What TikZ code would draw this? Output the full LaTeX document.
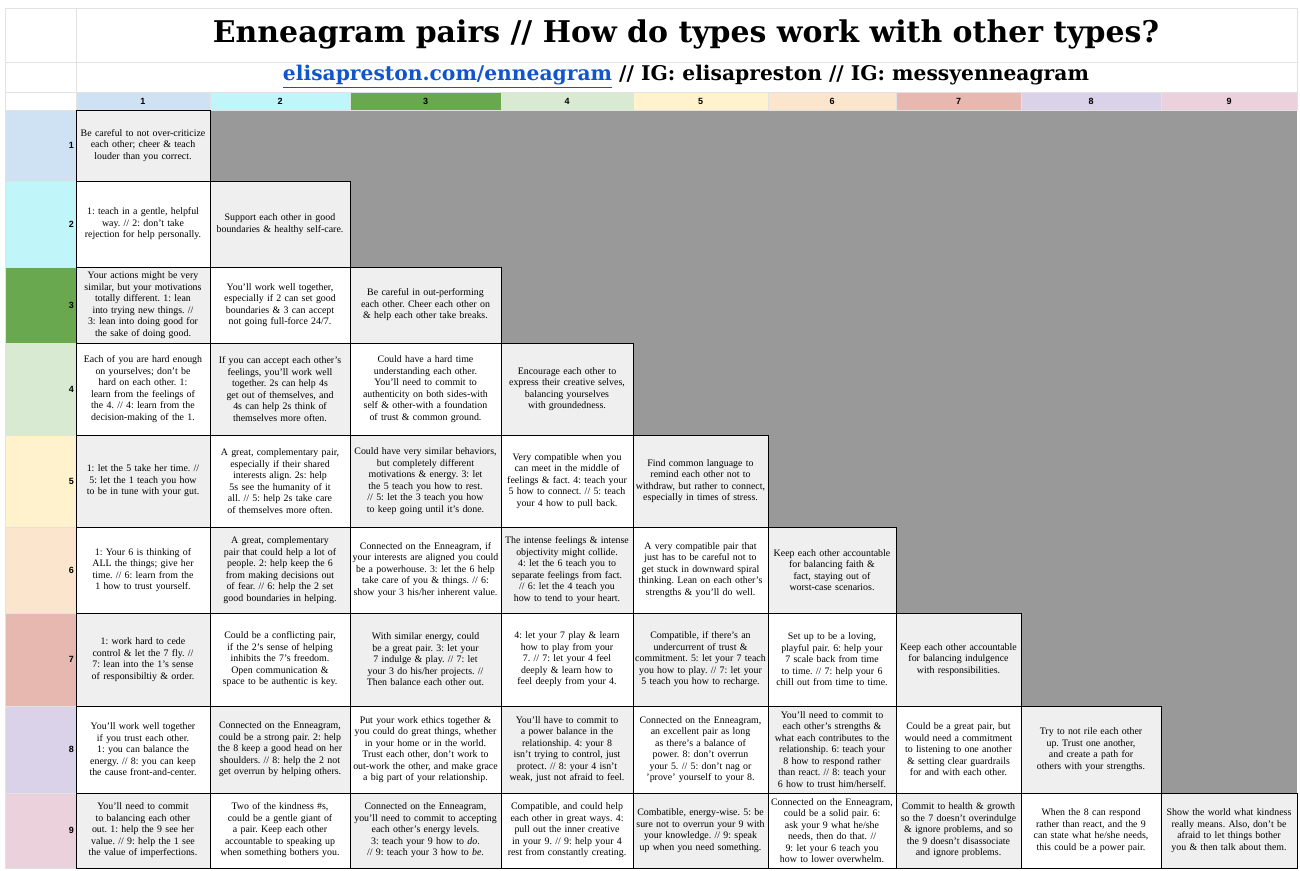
\documentclass[tikz,border=0pt]{standalone}
\usepackage{fontspec}
\setmainfont{Liberation Serif}
\newfontfamily\hdrfont{Liberation Sans}
\newfontfamily\titlefont{DejaVu Serif}
\definecolor{gridgray}{HTML}{E2E2E2}
\definecolor{darkgray}{HTML}{999999}
\definecolor{lightcell}{HTML}{EFEFEF}
\definecolor{linkblue}{HTML}{1155CC}
\definecolor{cA}{HTML}{CFE2F3}
\definecolor{cB}{HTML}{C0F6F9}
\definecolor{cC}{HTML}{6AA84F}
\definecolor{cD}{HTML}{D9EAD3}
\definecolor{cE}{HTML}{FFF2CC}
\definecolor{cF}{HTML}{FCE5CD}
\definecolor{cG}{HTML}{E6B8AF}
\definecolor{cH}{HTML}{D9D2E9}
\definecolor{cI}{HTML}{EAD1DC}
\def\xs{{5,76,210,350,501,633,768,896,1021,1161,1297}}
\def\ys{{92,110,181,267,343,435,527,613,706,793,868}}
\tikzset{
  cellbox/.style={draw=black, line width=0.8pt, inner sep=1pt, align=center,
    font=\fontsize{9.9}{11.5}\selectfont},
  hdrbox/.style={draw=gridgray, line width=0.5pt, inner sep=0pt,
    font=\hdrfont\bfseries\fontsize{9}{10}\selectfont}
}
\newcommand\cellat[3]{%
  \pgfmathsetmacro\xa{\xs[#2]}\pgfmathsetmacro\xb{\xs[#2+1]}%
  \pgfmathsetmacro\ya{\ys[#1]}\pgfmathsetmacro\yb{\ys[#1+1]}%
  \pgfmathsetmacro\ww{\xb-\xa}\pgfmathsetmacro\hh{\yb-\ya}%
  \pgfmathsetmacro\tw{\ww-4}%
  \pgfmathparse{int(mod(#1+#2,2))}%
  \ifnum\pgfmathresult=0 \def\cf{lightcell}\else\def\cf{white}\fi
  \node[cellbox, fill=\cf, minimum width=\ww pt, minimum height=\hh pt, text width=\tw pt]
    (c#1#2) at ({(\xa+\xb)/2},{(\ya+\yb)/2}) {#3};}
\newcommand\hdrat[3]{%
  \pgfmathsetmacro\xa{\xs[#1]}\pgfmathsetmacro\xb{\xs[#1+1]}%
  \node[hdrbox, fill=#2, minimum width=(\xb-\xa)*1pt, minimum height=18pt]
    (h#1) at ({(\xa+\xb)/2},101) {#3};}
\newcommand\rowat[3]{%
  \pgfmathsetmacro\ya{\ys[#1]}\pgfmathsetmacro\yb{\ys[#1+1]}%
  \node[hdrbox, fill=#2, minimum width=71pt, minimum height=(\yb-\ya)*1pt, align=right, text width=67pt]
    (r#1) at (40.5,{(\ya+\yb)/2}) {#3};}
\begin{document}
\hyphenpenalty=10000 \exhyphenpenalty=10000 \frenchspacing
\begin{tikzpicture}[x=1pt,y=-1pt]
\useasboundingbox (0,0) rectangle (1300,870);
\fill[white] (0,0) rectangle (1300,870);
\draw[gridgray, line width=0.6pt] (5,8) -- (1297,8) (5,62) -- (1297,62) (5,92) -- (1297,92)
  (5,8) -- (5,92) (76,8) -- (76,92) (1297,8) -- (1297,92);
\node[inner sep=0pt] (title) at (686,34) {\resizebox{946pt}{!}{\titlefont\bfseries Enneagram pairs // How do types work with other types?}};
\node[inner sep=0pt] (links) at (686,77) {\resizebox{806pt}{!}{\titlefont\bfseries\textcolor{linkblue}{\underline{elisapreston.com/enneagram}} // IG: elisapreston // IG: messyenneagram}};
\fill[darkgray] (76,110) rectangle (1297,868);
\node[hdrbox, fill=white, minimum width=71pt, minimum height=18pt] (h0) at (40.5,101) {};
\hdrat{1}{cA}{1}\hdrat{2}{cB}{2}\hdrat{3}{cC}{3}\hdrat{4}{cD}{4}\hdrat{5}{cE}{5}
\hdrat{6}{cF}{6}\hdrat{7}{cG}{7}\hdrat{8}{cH}{8}\hdrat{9}{cI}{9}
\rowat{1}{cA}{1}\rowat{2}{cB}{2}\rowat{3}{cC}{3}\rowat{4}{cD}{4}\rowat{5}{cE}{5}
\rowat{6}{cF}{6}\rowat{7}{cG}{7}\rowat{8}{cH}{8}\rowat{9}{cI}{9}
\cellat{1}{1}{Be careful to not over-criticize each other; cheer \& teach louder than you correct.}
\cellat{2}{1}{1: teach in a gentle, helpful way. // 2: don't take rejection for help personally.}
\cellat{2}{2}{Support each other in good boundaries \& healthy self-care.}
\cellat{3}{1}{Your actions might be very similar, but your motivations totally different. 1: lean into trying new things. // 3: lean into doing good for the sake of doing good.}
\cellat{3}{2}{You'll work well together, especially if 2 can set good boundaries \& 3 can accept not going full-force 24/7.}
\cellat{3}{3}{Be careful in out-performing each other. Cheer each other on \& help each other take breaks.}
\cellat{4}{1}{Each of you are hard enough on yourselves; don't be hard on each other. 1: learn from the feelings of the 4. // 4: learn from the decision-making of the 1.}
\cellat{4}{2}{If you can accept each other's feelings, you'll work well together. 2s can help 4s get out of themselves, and 4s can help 2s think of themselves more often.}
\cellat{4}{3}{Could have a hard time understanding each other. You'll need to commit to authenticity on both sides-with self \& other-with a foundation of trust \& common ground.}
\cellat{4}{4}{Encourage each other to express their creative selves, balancing yourselves with groundedness.}
\cellat{5}{1}{1: let the 5 take her time. // 5: let the 1 teach you how to be in tune with your gut.}
\cellat{5}{2}{A great, complementary pair, especially if their shared interests align. 2s: help 5s see the humanity of it all. // 5: help 2s take care of themselves more often.}
\cellat{5}{3}{Could have very similar behaviors, but completely different motivations \& energy. 3: let the 5 teach you how to rest. // 5: let the 3 teach you how to keep going until it's done.}
\cellat{5}{4}{Very compatible when you can meet in the middle of feelings \& fact. 4: teach your 5 how to connect. // 5: teach your 4 how to pull back.}
\cellat{5}{5}{Find common language to remind each other not to withdraw, but rather to connect, especially in times of stress.}
\cellat{6}{1}{1: Your 6 is thinking of ALL the things; give her time. // 6: learn from the 1 how to trust yourself.}
\cellat{6}{2}{A great, complementary pair that could help a lot of people. 2: help keep the 6 from making decisions out of fear. // 6: help the 2 set good boundaries in helping.}
\cellat{6}{3}{Connected on the Enneagram, if your interests are aligned you could be a powerhouse. 3: let the 6 help take care of you \& things. // 6: show your 3 his/her inherent value.}
\cellat{6}{4}{The intense feelings \& intense objectivity might collide. 4: let the 6 teach you to separate feelings from fact. // 6: let the 4 teach you how to tend to your heart.}
\cellat{6}{5}{A very compatible pair that just has to be careful not to get stuck in downward spiral thinking. Lean on each other's strengths \& you'll do well.}
\cellat{6}{6}{Keep each other accountable for balancing faith \& fact, staying out of worst-case scenarios.}
\cellat{7}{1}{1: work hard to cede control \& let the 7 fly. // 7: lean into the 1's sense of responsibiltiy \& order.}
\cellat{7}{2}{Could be a conflicting pair, if the 2's sense of helping inhibits the 7's freedom. Open communication \& space to be authentic is key.}
\cellat{7}{3}{With similar energy, could be a great pair. 3: let your 7 indulge \& play. // 7: let your 3 do his/her projects. // Then balance each other out.}
\cellat{7}{4}{4: let your 7 play \& learn how to play from your 7. // 7: let your 4 feel deeply \& learn how to feel deeply from your 4.}
\cellat{7}{5}{Compatible, if there's an undercurrent of trust \& commitment. 5: let your 7 teach you how to play. // 7: let your 5 teach you how to recharge.}
\cellat{7}{6}{Set up to be a loving, playful pair. 6: help your 7 scale back from time to time. // 7: help your 6 chill out from time to time.}
\cellat{7}{7}{Keep each other accountable for balancing indulgence with responsibilities.}
\cellat{8}{1}{You'll work well together if you trust each other. 1: you can balance the energy. // 8: you can keep the cause front-and-center.}
\cellat{8}{2}{Connected on the Enneagram, could be a strong pair. 2: help the 8 keep a good head on her shoulders. // 8: help the 2 not get overrun by helping others.}
\cellat{8}{3}{Put your work ethics together \& you could do great things, whether in your home or in the world. Trust each other, don't work to out-work the other, and make grace a big part of your relationship.}
\cellat{8}{4}{You'll have to commit to a power balance in the relationship. 4: your 8 isn't trying to control, just protect. // 8: your 4 isn't weak, just not afraid to feel.}
\cellat{8}{5}{Connected on the Enneagram, an excellent pair as long as there's a balance of power. 8: don't overrun your 5. // 5: don't nag or 'prove' yourself to your 8.}
\cellat{8}{6}{You'll need to commit to each other's strengths \& what each contributes to the relationship. 6: teach your 8 how to respond rather than react. // 8: teach your 6 how to trust him/herself.}
\cellat{8}{7}{Could be a great pair, but would need a commitment to listening to one another \& setting clear guardrails for and with each other.}
\cellat{8}{8}{Try to not rile each other up. Trust one another, and create a path for others with your strengths.}
\cellat{9}{1}{You'll need to commit to balancing each other out. 1: help the 9 see her value. // 9: help the 1 see the value of imperfections.}
\cellat{9}{2}{Two of the kindness \#s, could be a gentle giant of a pair. Keep each other accountable to speaking up when something bothers you.}
\cellat{9}{3}{Connected on the Enneagram, you'll need to commit to accepting each other's energy levels. 3: teach your 9 how to \emph{do}. // 9: teach your 3 how to \emph{be}.}
\cellat{9}{4}{Compatible, and could help each other in great ways. 4: pull out the inner creative in your 9. // 9: help your 4 rest from constantly creating.}
\cellat{9}{5}{Combatible, energy-wise. 5: be sure not to overrun your 9 with your knowledge. // 9: speak up when you need something.}
\cellat{9}{6}{Connected on the Enneagram, could be a solid pair. 6: ask your 9 what he/she needs, then do that. // 9: let your 6 teach you how to lower overwhelm.}
\cellat{9}{7}{Commit to health \& growth so the 7 doesn't overindulge \& ignore problems, and so the 9 doesn't disassociate and ignore problems.}
\cellat{9}{8}{When the 8 can respond rather than react, and the 9 can state what he/she needs, this could be a power pair.}
\cellat{9}{9}{Show the world what kindness really means. Also, don't be afraid to let things bother you \& then talk about them.}
\end{tikzpicture}
\end{document}
